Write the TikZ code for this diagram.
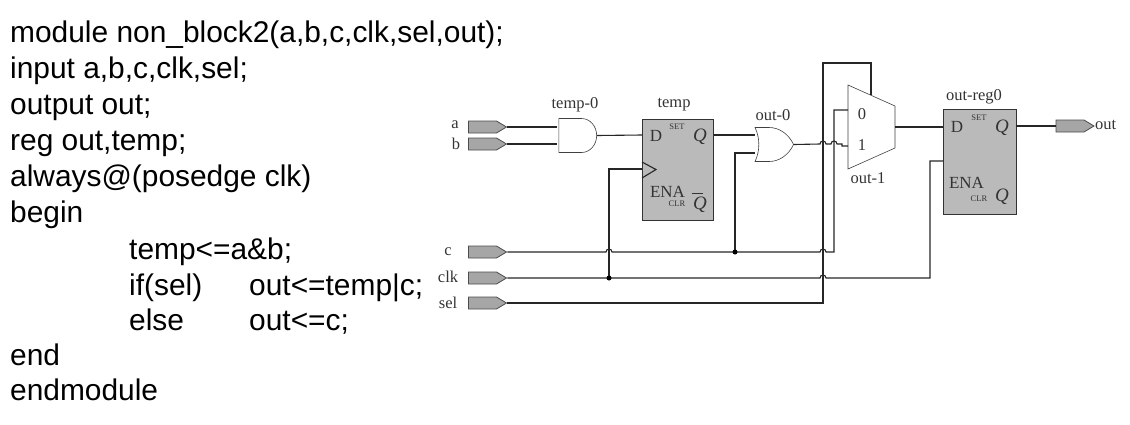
\documentclass[tikz,border=0pt]{standalone}
\usepackage{fontspec}
\setmainfont{Liberation Sans}
\newfontfamily\schfont{Liberation Serif}
\usetikzlibrary{shapes.geometric,shapes.symbols,shapes.gates.logic.US,arrows}
\tikzstyle{codeline} = [anchor=base west, inner sep=0pt, font=\fontsize{29.9}{30}\selectfont]
\tikzstyle{wire} = [line width=1.1pt, draw=black!85]
\tikzstyle{pin} = [signal, signal to=east, signal pointer angle=62, draw=black!70, fill=black!35, line width=0.8pt, minimum width=38pt, minimum height=12pt, inner sep=0pt]
\tikzstyle{lbl} = [inner sep=0pt, text=black!80, font=\schfont\fontsize{16.5}{17}\selectfont]
\tikzstyle{big} = [lbl, font=\schfont\fontsize{17}{17}\selectfont]
\tikzstyle{small} = [lbl, font=\schfont\fontsize{8.5}{9}\selectfont]
\tikzstyle{ital} = [lbl, font=\schfont\itshape\fontsize{19}{19}\selectfont]
\tikzstyle{reg} = [rectangle, draw=black!80, fill=black!27, line width=1.1pt, anchor=north west, inner sep=0pt]
\tikzstyle{gate} = [draw=black!75, line width=0.6pt, fill=white, inner sep=0pt]
\tikzstyle{dot} = [circle, fill=black, inner sep=0pt, minimum size=5pt]
\newcommand{\hop}[2]{-- (#1-3,#2) arc[start angle=180,end angle=360,radius=3]}
\begin{document}
\begin{tikzpicture}[x=1pt,y=-1pt]
    \useasboundingbox (0,0) rectangle (1130,424);
    % Place code
    \foreach \nm/\x/\y/\txt in {l1/10/42/{module non\_block2(a,b,c,clk,sel,out);},
        l2/10/78/{input a,b,c,clk,sel;}, l3/10/114/{output out;}, l4/10/150/{reg out,temp;},
        l5/10/186/{always@(posedge clk)}, l6/10/222/{begin}, l7/129/259/{temp<=a\&b;},
        l8/129/295/{if(sel)}, l9/249/295/{out<=temp|c;}, l10/129/330/{else}, l11/249/330/{out<=c;},
        l12/10/365/{end}, l13/10/400/{endmodule}}
        \node [codeline] (\nm) at (\x,\y) {\txt};

    % Place pins
    \node [pin] (pina) at (482.5,127) {};
    \node [pin] (pinb) at (482.5,144) {};
    \node [pin] (pinc) at (482.5,252) {};
    \node [pin] (pinclk) at (482.5,278) {};
    \node [pin] (pinsel) at (482.5,303) {};
    \node [pin] (pinout) at (1070,126) {};
    \node [lbl] at (455,125) (la) {a};
    \node [lbl] at (456,144) (lb) {b};
    \node [lbl] at (448,252) (lc) {c};
    \node [lbl] at (448,277) (lclk) {clk};
    \node [lbl] at (448,303) (lsel) {sel};
    \node [lbl, anchor=west] at (1095,125) (lout) {out};

    % Place gates
    \node [gate, and gate US, logic gate inputs=nn, minimum height=34pt, xscale=0.89, transform shape] (and0) at (576.5,135.5) {};
    \node [gate, or gate US, logic gate inputs=nn, minimum height=34pt, xscale=0.83, transform shape] (or0) at (771.5,144.5) {};
    \draw [gate, fill=white] (848,85) coordinate (muxa) -- (895,106) coordinate (muxb) -- (895,148) coordinate (muxc) -- (848,169) coordinate (muxd) -- cycle;
    \coordinate (muxout) at (895,127);
    \coordinate (muxsel) at (871,95);
    \node [reg, minimum width=71pt, minimum height=101pt] (temp) at (642,119) {};
    \node [reg, minimum width=73pt, minimum height=105pt] (outreg) at (943,109) {};
    \draw [wire] (642,162) -- (656,169.5) -- (642,178);
    \coordinate (tempclk) at (642,169);
    \coordinate (outena) at (943,161);

    % Place labels
    \node [lbl] (ltemp0) at (575,105) {temp-0};
    \node [lbl] (ltemp) at (674,105) {temp};
    \node [lbl] (lout0) at (773,115) {out-0};
    \node [lbl] (lout1) at (868,178) {out-1};
    \node [lbl] (loutreg) at (974,97) {out-reg0};
    \node [lbl] (m0) at (862,114) {0};
    \node [lbl] (m1) at (862,145) {1};
    \node [big] (td) at (656,136) {D};
    \node [big] (od) at (957,127) {D};
    \node [small] (tset) at (677,127) {SET};
    \node [small] (oset) at (979,118) {SET};
    \node [small] (tclr) at (677,204) {CLR};
    \node [small] (oclr) at (979,199) {CLR};
    \node [ital] (tq) at (700,137) {Q};
    \node [ital] (oq) at (1002,128) {Q};
    \node [ital] (tqb) at (700,205) {Q};
    \node [ital] (oqb) at (1002,197) {Q};
    \draw [line width=0.9pt, draw=black!80] (692,193) -- (703,193);
    \node [big] (tena) at (667.5,192) {ENA};
    \node [big] (oena) at (966.5,183) {ENA};

    % Place wires
    \draw [wire] (pina.east) -- (557,127);
    \draw [wire] (pinb.east) -- (557,144);
    \draw [wire] (and0.east) -- (642,135);
    \draw [wire] (temp.east |- 0,135) -- (755,135);
    \draw [wire] (pinc.east) \hop{609}{252} \hop{823}{252} -- (834,252) -- (834,110) -- (848,110);
    \draw [wire] (pinclk.east) \hop{823}{278} -- (930,278) -- (930,161) -- (outena);
    \draw [wire] (pinsel.east) -- (823,303) -- (823,63) -- (871,63) -- (muxsel);
    \draw [wire] (609,278) -- (609,169) -- (tempclk);
    \draw [wire] (735,252) -- (735,153) -- (755,153);
    \draw [wire] (or0.east) \hop{823}{144} \hop{834}{144} -- (842,144) -- (842,146) -- (848,146);
    \draw [wire] (muxout) -- (outreg.west |- 0,127);
    \draw [wire] (1016,126) -- (pinout.west);
    \node [dot] (j1) at (609,278) {};
    \node [dot] (j2) at (735,252) {};
\end{tikzpicture}
\end{document}
